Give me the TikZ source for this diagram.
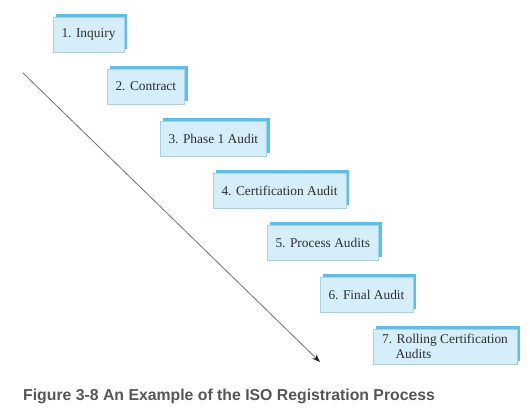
\documentclass[tikz,border=0pt]{standalone}
\usepackage{fontspec}
\setmainfont{Liberation Serif}
\newfontfamily\capfont{Liberation Sans}
\usetikzlibrary{shadows,arrows.meta}
\definecolor{boxfill}{HTML}{D5EEFA}
\definecolor{boxline}{HTML}{9DD5EF}
\definecolor{boxshadow}{HTML}{5BBFEA}
\definecolor{txt}{HTML}{2E2E2E}
\definecolor{captxt}{HTML}{555555}
\definecolor{arrowgray}{HTML}{707070}
\begin{document}
\begin{tikzpicture}[x=1pt,y=1pt,
  stepbox/.style={draw=boxline, line width=0.8pt, fill=boxfill, text=txt,
    font=\fontsize{13.4}{15.5}\selectfont, anchor=north west,
    minimum height=35pt, inner xsep=8.5pt, inner ysep=2pt, outer sep=0pt,
    general shadow={shadow xshift=3pt, shadow yshift=3pt, fill=boxshadow}},
  capstyle/.style={anchor=base west, inner sep=0pt, text=captxt,
    font=\capfont\bfseries\fontsize{15.8}{18}\selectfont},
  flowarrow/.style={draw=arrowgray, line width=0.8pt,
    -{Stealth[length=8pt,width=6pt,color=black!85]}}
]
\useasboundingbox (0,0) rectangle (530,413);
\fill[white] (0,0) rectangle (530,413);
\node[stepbox, minimum width=70pt]  (s1) at (53,396) {1. Inquiry};
\node[stepbox, minimum width=76pt]  (s2) at (107,344) {2. Contract};
\node[stepbox, minimum width=102pt] (s3) at (160,292) {3. Phase 1 Audit};
\node[stepbox, minimum width=132pt] (s4) at (213,240) {4. Certification Audit};
\node[stepbox, minimum width=110pt] (s5) at (267,188) {5. Process Audits};
\node[stepbox, minimum width=92pt]  (s6) at (320,136) {6. Final Audit};
\node[stepbox, minimum width=144pt, align=left] (s7) at (373,84) {7. Rolling Certification\\\phantom{7.}\ Audits};
\coordinate (a0) at (23,340);
\coordinate (a1) at (320,51);
\draw[flowarrow] (a0) -- (a1);
\node[capstyle] (cap) at (23,12.5) {Figure 3-8 An Example of the ISO Registration Process};
\end{tikzpicture}
\end{document}
